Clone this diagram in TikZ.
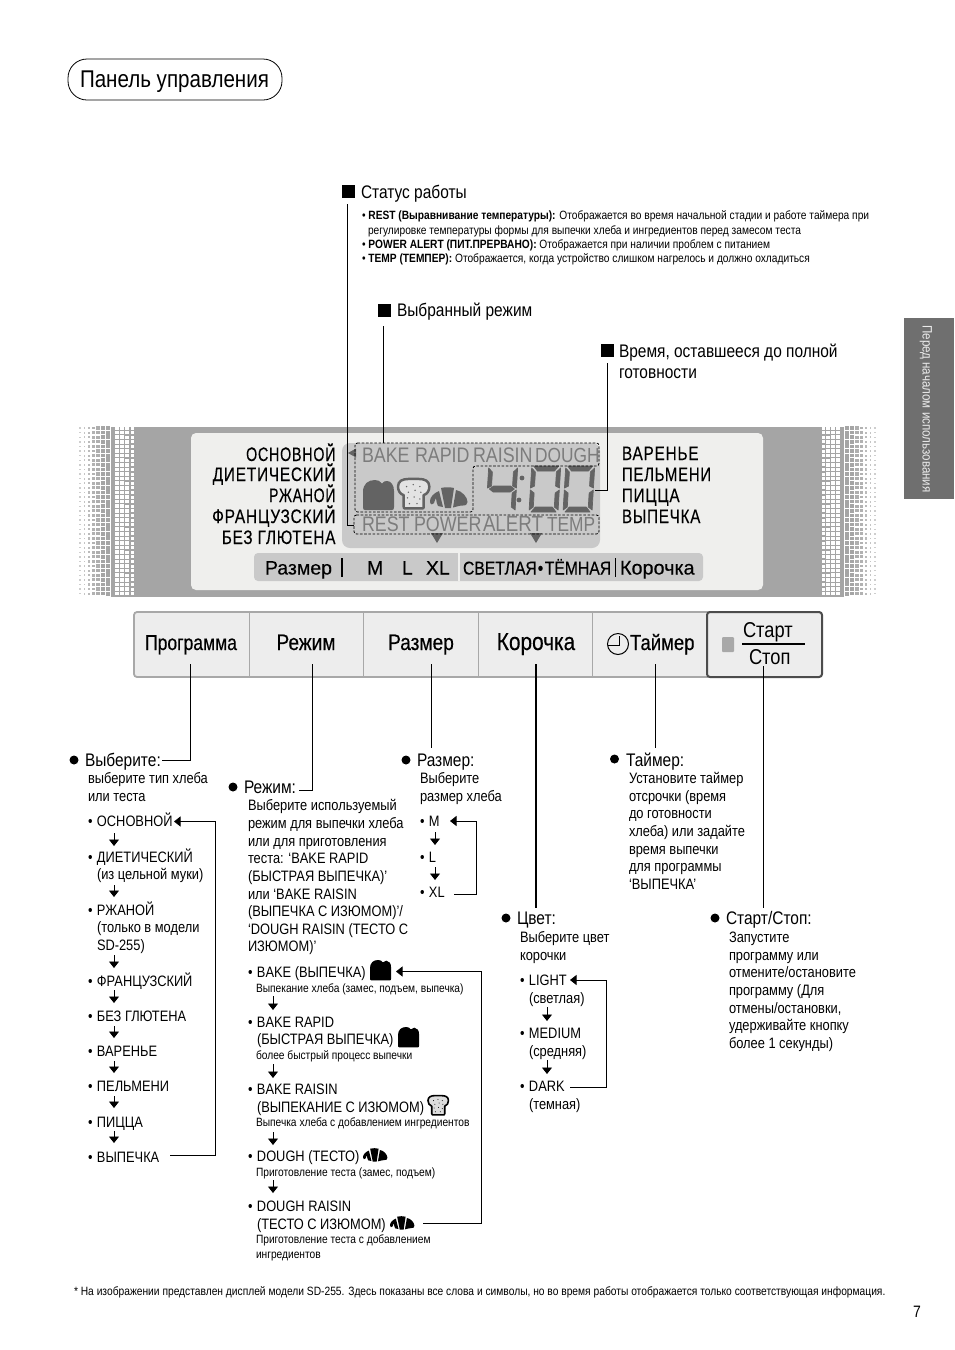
\documentclass[tikz,border=0pt]{standalone}
\usepackage{fontspec}
\usetikzlibrary{arrows.meta,calc}
\setmainfont{Liberation Sans}[FakeStretch=0.85]
\newfontfamily\lcdf{Liberation Sans}[FakeStretch=0.85,LetterSpace=4.5,FakeBold=0.25]
\newfontfamily\wide{Liberation Sans}[FakeStretch=1.0,FakeBold=0.25]
\newfontfamily\bfk{Liberation Sans}[FakeStretch=0.85,FakeBold=0.35]
\definecolor{band}{HTML}{A5A5A5}
\definecolor{panel}{HTML}{EFEFED}
\definecolor{lcd}{HTML}{C9C9C9}
\definecolor{seg}{HTML}{636363}
\definecolor{lcdtxt}{HTML}{7C7C7C}
\definecolor{btn}{HTML}{EDEDED}
\definecolor{btnline}{HTML}{A8A8A8}
\definecolor{side}{HTML}{6F6F6F}
\newcount\tc
\newcommand{\fs}[1]{\fontsize{#1}{#1}\selectfont}
\newcommand{\Bu}{•\hspace{4.5pt}}
\newcommand{\T}[5][]{\global\advance\tc by 1\relax
  \node[lbl,#1] (t\the\tc) at (#2,#3) {\fs{#4}#5};}
\newcommand{\DA}[3]{\global\advance\tc by 1\relax
  \coordinate (as\the\tc) at (#1,#2);\coordinate (ae\the\tc) at (#1,#3);
  \draw[arr] (as\the\tc) -- (ae\the\tc);}
\newcommand{\Dot}[2]{\fill[black] (#1,#2) circle (4.5);}
\newcommand{\Sq}[2]{\fill[black] (#1,#2) rectangle ++(13,12.5);}
\newcommand{\Loaf}[4]{\begin{scope}[shift={(#1,#2)},scale=#3]
  \fill[#4] (2,30) .. controls (0.5,30) and (0,29) .. (0,27) -- (0,12)
    .. controls (0,4) and (5,0) .. (12,0) .. controls (15,0) and (17,1) .. (19,3.5)
    .. controls (20.5,1.5) and (22,1) .. (24,1) .. controls (28,1) and (31,5) .. (31,11)
    -- (31,27) .. controls (31,29) and (30.5,30) .. (29,30) -- cycle;
  \end{scope}}
\newcommand{\Toast}[4]{\begin{scope}[shift={(#1,#2)},scale=#3]
  \draw[#4,line width=#3*2.6pt,fill=#4!15!lcd!40!white,line join=round]
    (7,32) -- (26,32) .. controls (27,32) and (27,31) .. (27,30) -- (27,18)
    .. controls (31,17) and (33,13) .. (33,9) .. controls (33,3) and (28,1) .. (22,1)
    -- (11,1) .. controls (5,1) and (0,3) .. (0,9) .. controls (0,13) and (2,17) .. (6,18)
    -- (6,30) .. controls (6,31) and (6,32) .. (7,32) -- cycle;
  \foreach \a/\b in {9/9,16/7,23/9,11/15,18/13,24/15,10/21,17/20,23/22,12/27,20/27}
    \fill[#4] (\a,\b) circle (0.8);
  \end{scope}}
\newcommand{\Crois}[4]{\begin{scope}[shift={(#1,#2)},scale=#3]
  \fill[#4] (11,1) .. controls (15,0) and (20,0) .. (24,1) -- (21,21) -- (15,21) -- cycle;
  \fill[#4] (26,3) .. controls (32,4) and (37.5,10) .. (37.5,15) .. controls (37.5,18) and (35,19) .. (33,18.5)
     .. controls (29,18.5) and (26,20) .. (23,20.5) -- cycle;
  \fill[#4] (9,4) .. controls (4,6) and (0,10) .. (0,14) .. controls (0,18) and (2,18) .. (4,16)
     .. controls (5,13) and (5.5,12) .. (6,11) .. controls (6,14) and (7,17) .. (8,19) -- (13,20) -- cycle;
  \end{scope}}
\newcommand{\SegA}{\filldraw[seg,line width=.7pt,line join=round] (3,-46)--(28,-46)--(24,-41)--(7,-41)--cycle;}
\newcommand{\SegF}{\filldraw[seg,line width=.7pt,line join=round] (1,-44)--(5,-40)--(5,-26)--(1,-24)--cycle;}
\newcommand{\SegB}{\filldraw[seg,line width=.7pt,line join=round] (30,-44)--(26,-40)--(26,-26)--(30,-24)--cycle;}
\newcommand{\SegG}{\filldraw[seg,line width=.7pt,line join=round] (3,-23)--(7,-26)--(24,-26)--(28,-23)--(24,-20)--(7,-20)--cycle;}
\newcommand{\SegE}{\filldraw[seg,line width=.7pt,line join=round] (1,-22)--(5,-19)--(5,-5)--(1,-2)--cycle;}
\newcommand{\SegC}{\filldraw[seg,line width=.7pt,line join=round] (30,-22)--(26,-19)--(26,-5)--(30,-2)--cycle;}
\newcommand{\SegD}{\filldraw[seg,line width=.7pt,line join=round] (3,0)--(28,0)--(24,-5)--(7,-5)--cycle;}
\tikzset{
  x=1pt,y=-1pt,
  lbl/.style={anchor=base west,inner sep=0pt,outer sep=0pt,text=black},
  rlbl/.style={anchor=base east},
  clbl/.style={anchor=base},
  conn/.style={draw=black,line width=0.8pt},
  arr/.style={draw=black,line width=0.9pt,-{Triangle[length=6.5pt,width=10pt]}},
  lcdtext/.style={text=lcdtxt},
  dashbox/.style={draw=black,line width=0.8pt,dash pattern=on 2.6pt off 1.6pt,rounded corners=2.5pt},
  btnbox/.style={draw=btnline,line width=1.8pt,fill=btn,rounded corners=3pt},
}
\begin{document}
\begin{tikzpicture}
\useasboundingbox (0,0) rectangle (954,1350);
\fill[white] (0,0) rectangle (954,1350);

% title
\node[draw=black,line width=0.8pt,rounded corners=19pt,minimum width=214pt,minimum height=41pt,inner sep=0pt] (title) at (175,79.5) {};
\T{80}{87.5}{24.2}{Панель управления}

% heads
\Sq{342}{185}
\T{361}{198}{18.2}{Статус работы}
\T{362}{219}{12}{• \textbf{REST (Выравнивание температуры):} Отображается во время начальной стадии и работе таймера при}
\T{368}{234}{12}{регулировке температуры формы для выпечки хлеба и ингредиентов перед замесом теста}
\T{362}{248}{12}{• \textbf{POWER ALERT (ПИТ.ПРЕРВАНО):} Отображается при наличии проблем с питанием}
\T{362}{262}{12}{• \textbf{TEMP (ТЕМПЕР):} Отображается, когда устройство слишком нагрелось и должно охладиться}
\Sq{378}{304}
\T{397}{316}{18.2}{Выбранный режим}
\Sq{600.5}{344}
\T{619}{357}{18.2}{Время, оставшееся до полной}
\T{619}{378}{18.2}{готовности}

% side tab
\fill[side] (904,318) rectangle (954,499);
\node[rotate=-90,inner sep=0pt,text=white!92!black] (sidetxt) at (926,409) {\fs{13.6}Перед началом использования};

% band with halftone edges
\fill[band] (111,427) rectangle (844,597);
\foreach \r in {0,...,36}{
  \pgfmathsetmacro{\yy}{428+\r*4.6}
  \foreach \xa/\sz/\cc in {80/1.4/55,84.5/1.8/65,89/2.2/75,93.5/2.8/85,98/3.2/90,103/3.6/100,108/4.0/100}{
    \fill[band!\cc!white] (\xa-\sz/2,\yy-\sz/2) rectangle ++(\sz,\sz);
    \fill[band!\cc!white] (955-\xa-\sz/2,\yy-\sz/2) rectangle ++(\sz,\sz);
  }
  \foreach \xa/\sz in {117/3.6,122/3.6,127/3.4,132/3.0}{
    \fill[white] (\xa-\sz/2,\yy-\sz/2) rectangle ++(\sz,\sz);
    \fill[white] (955-\xa-\sz/2,\yy-\sz/2) rectangle ++(\sz,\sz);
  }
}
\fill[panel,rounded corners=5pt] (191,433) rectangle (763,590);
\fill[lcd,rounded corners=8pt] (342,443) rectangle (600,548);

% LCD left and right labels
\T[rlbl]{335.5}{461}{19.5}{\lcdf\scalebox{.862}[1]{ОСНОВНОЙ}}
\T[rlbl]{335.5}{481}{19.5}{\lcdf\scalebox{.926}[1]{ДИЕТИЧЕСКИЙ}}
\T[rlbl]{335.5}{502}{19.5}{\lcdf\scalebox{.847}[1]{РЖАНОЙ}}
\T[rlbl]{335.5}{523}{19.5}{\lcdf\scalebox{.934}[1]{ФРАНЦУЗСКИЙ}}
\T[rlbl]{335.5}{544}{19.5}{\lcdf\scalebox{.924}[1]{БЕЗ ГЛЮТЕНА}}
\T{622}{460}{19.5}{\lcdf\scalebox{.925}[1]{ВАРЕНЬЕ}}
\T{622}{481}{19.5}{\lcdf\scalebox{.898}[1]{ПЕЛЬМЕНИ}}
\T{622}{502}{19.5}{\lcdf\scalebox{.915}[1]{ПИЦЦА}}
\T{622}{523}{19.5}{\lcdf\scalebox{.914}[1]{ВЫПЕЧКА}}

% LCD words
\T[lcdtext]{362}{462}{21}{BAKE}
\T[lcdtext]{415}{462}{21}{RAPID}
\T[lcdtext]{473}{462}{21}{RAISIN}
\T[lcdtext]{535}{462}{20.4}{DOUGH}
\T[lcdtext]{362}{531}{21}{REST}
\T[lcdtext]{414}{531}{21}{POWER}
\T[lcdtext]{483}{531}{22}{ALERT}
\T[lcdtext]{547}{531}{20.4}{TEMP}

% LCD symbols
\Loaf{363}{480}{1}{seg}
\Toast{398}{478}{0.95}{seg}
\Crois{430}{487}{1}{seg}
\foreach \ox in {485}{
\begin{scope}[shift={(\ox,512)},xslant=0.06]
  \SegF\SegB\SegG\SegC
\end{scope}}
\fill[seg] (522,478) circle (2.4);
\fill[seg] (519,500) circle (2.4);
\foreach \ox in {528,562}{
\begin{scope}[shift={(\ox,512)},xslant=0.06]
  \SegA\SegB\SegC\SegD\SegE\SegF
\end{scope}}
\fill[seg] (348,453) -- (356,448.5) -- (356,457.5) -- cycle;
\fill[seg] (431,533) -- (443,533) -- (437,543) -- cycle;
\fill[seg] (530,533) -- (542,533) -- (536,543) -- cycle;

% LCD dashed regions
\draw[dashbox] (355,443) -- (599,443) -- (599,466) -- (473,466) -- (473,512) -- (355,512) -- cycle;
\draw[dashbox] (354,515) -- (599,515) -- (599,534) -- (354,534) -- cycle;
\coordinate (dashA) at (383,443);
\coordinate (dashB) at (354,525);
\coordinate (dashC) at (595,490);

% strip
\fill[lcd,rounded corners=4pt] (254,553) rectangle (703,581);
\fill[panel] (458,553) rectangle (460,581);
\T{265}{574.5}{19.5}{\wide Размер}
\fill[black] (341,558) rectangle (342.5,577);
\T{367}{574.5}{19.5}{\wide M}
\T{402}{574.5}{19.5}{\wide L}
\T{426}{574.5}{19.5}{\wide XL}
\T{463}{574.5}{18.5}{\bfk СВЕТЛАЯ\hspace{1pt}•\hspace{1.5pt}ТЁМНАЯ}
\fill[black] (614.5,558) rectangle (616,577);
\T{620}{574.5}{19.8}{\wide Корочка}

% buttons
\node[btnbox,minimum width=688pt,minimum height=65pt,inner sep=0pt] (panelbtn) at (478,644.5) {};
\foreach \dx in {249,363,478,592}{
  \draw[btnline,line width=1pt] (\dx,613) -- (\dx,676);
}
\node[draw=black!70,line width=2pt,rounded corners=3pt,minimum width=115pt,minimum height=65pt,inner sep=0pt,fill=btn] (btnstart) at (764.5,644.5) {};
\T[clbl]{191}{650}{21.5}{\bfk\scalebox{.96}[1]{Программа}}
\T[clbl]{306}{650}{22.5}{\bfk Режим}
\T[clbl]{421}{650}{22.5}{\bfk Размер}
\T[clbl]{536}{650}{24.5}{\bfk Корочка}
\draw[black,line width=1pt] (618,644) circle (10.5);
\draw[black,line width=1pt] (608,645) -- (619,645) -- (619,636);
\T{630}{650}{21.8}{\bfk Таймер}
\fill[btnline,rounded corners=1pt] (722,637) rectangle (734,652);
\T{743}{637}{21.5}{Старт}
\fill[black] (742,643) rectangle (805,644.6);
\T{749}{664}{21.5}{Стоп}

% leader lines upper
\coordinate (st) at (347,204);
\coordinate (stb) at (347,525);
\draw[conn] (st) -- (stb) -- (dashB);
\coordinate (mo) at (383,326);
\draw[conn] (mo) -- (dashA);
\coordinate (ti) at (607,363);
\coordinate (tib) at (607,490);
\draw[conn] (ti) -- (tib) -- (dashC);

% leader lines from buttons
\coordinate (b1) at (190.5,664);\coordinate (b1a) at (190.5,760);\coordinate (b1e) at (162,760);
\draw[conn] (b1) -- (b1a) -- (b1e);
\coordinate (b2) at (312.5,664);\coordinate (b2a) at (312.5,790);\coordinate (b2e) at (299,790);
\draw[conn] (b2) -- (b2a) -- (b2e);
\coordinate (b3) at (431.5,664);\coordinate (b3e) at (431.5,748);
\draw[conn] (b3) -- (b3e);
\coordinate (b4) at (536,664);\coordinate (b4e) at (536,908);
\draw[conn,line width=1.6pt] (b4) -- (b4e);
\coordinate (b5) at (655,664);\coordinate (b5e) at (655,748);
\draw[conn] (b5) -- (b5e);
\coordinate (b6) at (763.5,666);\coordinate (b6e) at (763.5,908);
\draw[conn] (b6) -- (b6e);

% column 1
\Dot{74}{760}
\T{85}{766}{18.2}{Выберите:}
\T{88}{783}{15.1}{выберите тип хлеба}
\T{88}{801}{15.1}{или теста}
\T{88}{826}{15.1}{\Bu ОСНОВНОЙ}
\DA{114}{833}{846}
\T{88}{862}{15.1}{\Bu ДИЕТИЧЕСКИЙ}
\T{97}{879}{15.1}{(из цельной муки)}
\DA{114}{885}{897}
\T{88}{915}{15.1}{\Bu РЖАНОЙ}
\T{97}{932}{15.1}{(только в модели}
\T{97}{950}{15.1}{SD-255)}
\DA{114}{955}{968}
\T{88}{986}{15.1}{\Bu ФРАНЦУЗСКИЙ}
\DA{114}{990}{1003}
\T{88}{1021}{15.1}{\Bu БЕЗ ГЛЮТЕНА}
\DA{114}{1026}{1038}
\T{88}{1056}{15.1}{\Bu ВАРЕНЬЕ}
\DA{114}{1061}{1073}
\T{88}{1091}{15.1}{\Bu ПЕЛЬМЕНИ}
\DA{114}{1096}{1108}
\T{88}{1127}{15.1}{\Bu ПИЦЦА}
\DA{114}{1131}{1143}
\T{88}{1162}{15.1}{\Bu ВЫПЕЧКА}
\coordinate (r1a) at (170,1155.5);\coordinate (r1b) at (215.5,1155.5);\coordinate (r1c) at (215.5,821.5);\coordinate (r1d) at (174,821.5);
\draw[arr] (r1a) -- (r1b) -- (r1c) -- (r1d);

% column 2
\Dot{233}{787}
\T{244}{793}{18.2}{Режим:}
\T{248}{810}{15.1}{Выберите используемый}
\T{248}{828}{15.1}{режим для выпечки хлеба}
\T{248}{846}{15.1}{или для приготовления}
\T{248}{863}{15.1}{теста: ‘BAKE RAPID}
\T{248}{881}{15.1}{(БЫСТРАЯ ВЫПЕЧКА)’}
\T{248}{899}{15.1}{или ‘BAKE RAISIN}
\T{248}{916}{15.1}{(ВЫПЕЧКА С ИЗЮМОМ)’/}
\T{248}{934}{15.1}{‘DOUGH RAISIN (ТЕСТО С}
\T{248}{951}{15.1}{ИЗЮМОМ)’}
\T{248}{977}{15.1}{\Bu BAKE (ВЫПЕЧКА)}
\Loaf{370}{960}{0.68}{black}
\T{256}{992}{12}{Выпекание хлеба (замес, подъем, выпечка)}
\DA{273}{996}{1010}
\T{248}{1027}{15.1}{\Bu BAKE RAPID}
\T{257}{1044}{15.1}{(БЫСТРАЯ ВЫПЕЧКА)}
\Loaf{398}{1027}{0.68}{black}
\T{256}{1059}{12}{более быстрый процесс выпечки}
\DA{273}{1064}{1078}
\T{248}{1094}{15.1}{\Bu BAKE RAISIN}
\T{257}{1112}{15.1}{(ВЫПЕКАНИЕ С ИЗЮМОМ)}
\Toast{428}{1095}{0.62}{black}
\T{256}{1126}{12}{Выпечка хлеба с добавлением ингредиентов}
\DA{273}{1132}{1145}
\T{248}{1161}{15.1}{\Bu DOUGH (ТЕСТО)}
\Crois{363}{1148}{0.65}{black}
\T{256}{1176}{12}{Приготовление теста (замес, подъем)}
\DA{273}{1180}{1193}
\T{248}{1211}{15.1}{\Bu DOUGH RAISIN}
\T{257}{1229}{15.1}{(ТЕСТО С ИЗЮМОМ)}
\Crois{390}{1216}{0.65}{black}
\T{256}{1243}{12}{Приготовление теста с добавлением}
\T{256}{1258}{12}{ингредиентов}
\coordinate (r2a) at (423,1223);\coordinate (r2b) at (481.5,1223);\coordinate (r2c) at (481.5,971.5);\coordinate (r2d) at (396,971.5);
\draw[arr] (r2a) -- (r2b) -- (r2c) -- (r2d);

% column size
\Dot{406}{760}
\T{417}{766}{18.2}{Размер:}
\T{420}{783}{15.1}{Выберите}
\T{420}{801}{15.1}{размер хлеба}
\T{420}{826}{15.1}{\Bu M}
\DA{435}{832}{845}
\T{420}{862}{15.1}{\Bu L}
\DA{435}{867}{880}
\T{420}{897}{15.1}{\Bu XL}
\coordinate (r3a) at (454,894);\coordinate (r3b) at (476.5,894);\coordinate (r3c) at (476.5,821);\coordinate (r3d) at (450,821);
\draw[arr] (r3a) -- (r3b) -- (r3c) -- (r3d);

% column colour
\Dot{506}{918}
\T{517}{924}{18.2}{Цвет:}
\T{520}{942}{15.1}{Выберите цвет}
\T{520}{960}{15.1}{корочки}
\T{520}{985}{15.1}{\Bu LIGHT}
\T{529}{1003}{15.1}{(светлая)}
\DA{547}{1007}{1021}
\T{520}{1038}{15.1}{\Bu MEDIUM}
\T{529}{1056}{15.1}{(средняя)}
\DA{547}{1060}{1074}
\T{520}{1091}{15.1}{\Bu DARK}
\T{529}{1109}{15.1}{(темная)}
\coordinate (r4a) at (570,1087);\coordinate (r4b) at (606.5,1087);\coordinate (r4c) at (606.5,980);\coordinate (r4d) at (570,980);
\draw[arr] (r4a) -- (r4b) -- (r4c) -- (r4d);

% column timer
\Dot{614.5}{759}
\T{626}{766}{18.2}{Таймер:}
\T{629}{783}{15.1}{Установите таймер}
\T{629}{801}{15.1}{отсрочки (время}
\T{629}{818}{15.1}{до готовности}
\T{629}{836}{15.1}{хлеба) или задайте}
\T{629}{854}{15.1}{время выпечки}
\T{629}{871}{15.1}{для программы}
\T{629}{889}{15.1}{‘ВЫПЕЧКА’}

% column start
\Dot{715}{918}
\T{726}{924}{18.2}{Старт/Стоп:}
\T{729}{942}{15.1}{Запустите}
\T{729}{960}{15.1}{программу или}
\T{729}{977}{15.1}{отмените/остановите}
\T{729}{995}{15.1}{программу (Для}
\T{729}{1013}{15.1}{отмены/остановки,}
\T{729}{1030}{15.1}{удерживайте кнопку}
\T{729}{1048}{15.1}{более 1 секунды)}

% footer
\T{74}{1295}{12.05}{* На изображении представлен дисплей модели SD-255. Здесь показаны все слова и символы, но во время работы отображается только соответствующая информация.}
\T{913}{1317}{16.5}{7}
\end{tikzpicture}
\end{document}
